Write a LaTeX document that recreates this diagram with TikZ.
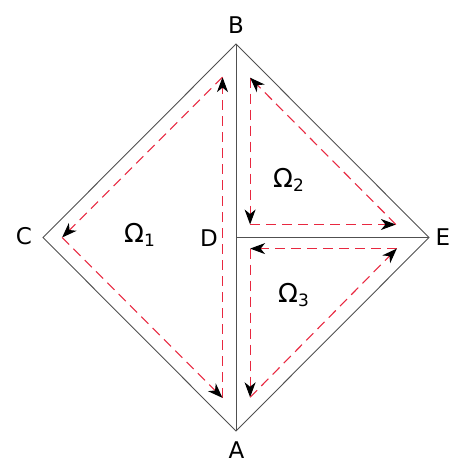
\documentclass[tikz,border=0pt]{standalone}
\usepackage{fontspec}
\setmainfont{DejaVu Sans}
\usetikzlibrary{arrows.meta}
\definecolor{edgegray}{RGB}{80,80,80}
\definecolor{flowred}{RGB}{232,40,64}
\newcommand\omsub[1]{\raisebox{-4.5pt}{\fontsize{17}{17}\selectfont #1}}
\tikzset{
  edge/.style={draw=edgegray, line width=0.9pt},
  flowline/.style={color=flowred, line width=1.1pt, dash pattern=on 10pt off 6pt},
  flow/.style={flowline, -{Stealth[color=black,length=15pt,width=11pt,inset=4.5pt]}},
  vlabel/.style={font=\fontsize{23}{23}\selectfont, inner sep=0pt},
  omlabel/.style={font=\fontsize{26}{26}\selectfont, inner sep=0pt, anchor=base west}
}
\begin{document}
\begin{tikzpicture}[x=1pt,y=-1pt]
\useasboundingbox (0,0) rectangle (474,474);
% corners
\coordinate (B) at (236,44);
\coordinate (E) at (429,237.5);
\coordinate (A) at (236,431);
\coordinate (C) at (43,237.5);
\coordinate (D) at (236,237.5);
% outline
\draw[edge] (B) -- (E) -- (A) -- (C) -- cycle;
\draw[edge] (B) -- (A);
\draw[edge] (D) -- (E);
% inner flow vertices
\coordinate (p1t) at (222.5,77.1);
\coordinate (p1l) at (62.1,237.5);
\coordinate (p1b) at (222.5,397.9);
\coordinate (p2t) at (250.1,77.7);
\coordinate (p2l) at (250.1,224.5);
\coordinate (p2r) at (395.9,224.5);
\coordinate (p3l) at (250.1,248.6);
\coordinate (p3r) at (396.8,248.6);
\coordinate (p3b) at (250.1,397.3);
% Omega 1
\draw[flow] (p1b) -- (p1t);
\draw[flow] (p1t) -- (p1l);
\draw[flow] (p1l) -- (p1b);
% Omega 2
\draw[flow] (p2t) -- (p2l);
\draw[flow] (p2l) -- (p2r);
\draw[flow] (p2r) -- (p2t);
% Omega 3
\draw[flow] (p3r) -- (p3l);
\draw[flow] (p3l) -- (p3b);
\draw[flow] (p3b) -- (p3r);
% labels
\node[vlabel] (lB) at (236,25.5) {B};
\node[vlabel] (lA) at (236.5,450.5) {A};
\node[vlabel] (lC) at (24,236) {C};
\node[vlabel] (lD) at (209,238) {D};
\node[vlabel] (lE) at (443,237) {E};
\node[omlabel] (o1) at (124,242) {Ω\omsub{1}};
\node[omlabel] (o2) at (273,187) {Ω\omsub{2}};
\node[omlabel] (o3) at (278,302) {Ω\omsub{3}};
\end{tikzpicture}
\end{document}
